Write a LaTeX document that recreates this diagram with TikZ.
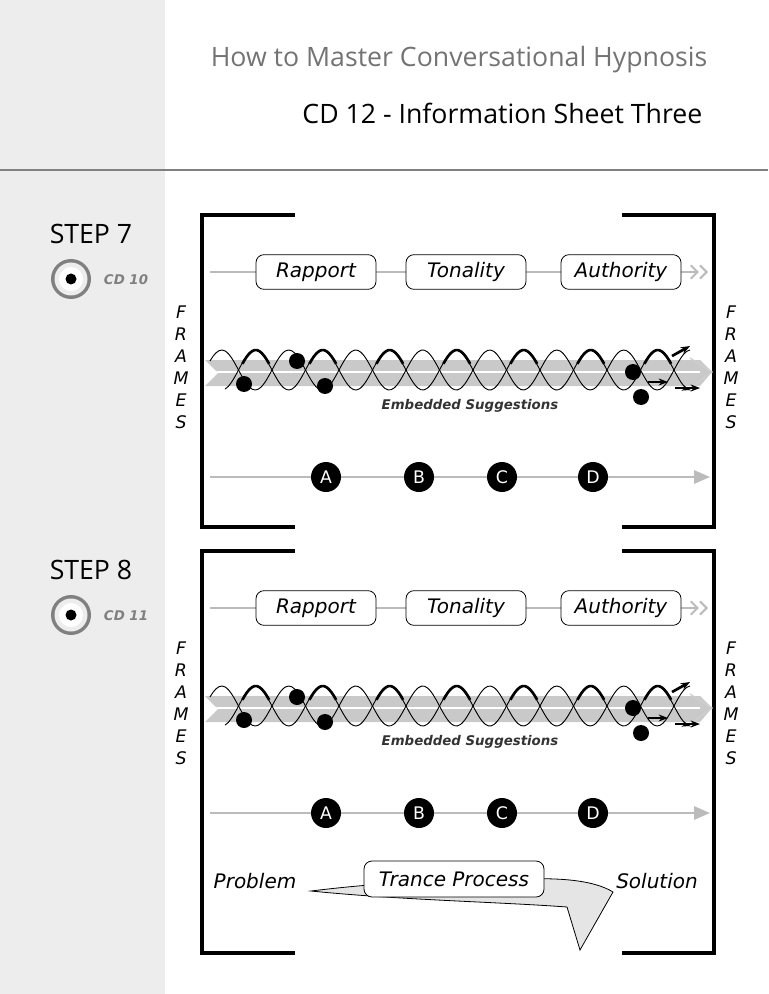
\documentclass[tikz,border=0pt]{standalone}
\usepackage{fontspec}
\setmainfont{Open Sans}
\newfontfamily\lab{DejaVu Sans}
\usetikzlibrary{arrows.meta}
\definecolor{panel}{HTML}{EDEDED}
\definecolor{ln}{HTML}{BBBBBB}
\tikzset{
 brk/.style={line width=3.5pt},
 rail/.style={ln,line width=1.5pt},
 lbox/.style={draw,rounded corners=6pt,minimum width=120pt*0.75,minimum height=26pt,font=\lab\itshape\fontsize{15}{15}\selectfont,fill=white,line width=0.6pt},
 dotc/.style={circle,fill=black,minimum size=30pt*0.75,inner sep=0pt,text=white,font=\lab\fontsize{13}{13}\selectfont},
 frl/.style={font=\lab\itshape\fontsize{13}{13}\selectfont,align=center},
 smdot/.style={circle,fill=black,inner sep=0pt,minimum size=12pt},
}
\begin{document}
\begin{tikzpicture}[x=0.75pt,y=-0.75pt]
\useasboundingbox (0,0) rectangle (768,994);
\fill[panel] (0,0) rectangle (165,994);
\draw[gray,line width=0.8pt] (0,170) -- (768,170);
\node[anchor=east,text=gray!90!black,font=\fontsize{20}{20}\selectfont] (t1) at (712,60) {How to Master Conversational Hypnosis};
\node[anchor=east,font=\fontsize{20}{20}\selectfont] (t2) at (707,113) {CD 12 - Information Sheet Three};
\foreach \o/\s/\c/\b in {0/7/10/527,336/8/11/617}{
 \begin{scope}[yshift=-\o*0.75pt]
 \node[font=\fontsize{20}{20}\selectfont] (st\s) at (91,234) {STEP \s};
 \fill[gray] (71,279) circle (20);
 \fill[white!93!black] (71,279) circle (16.5);
 \fill[white] (71,279) circle (12);
 \fill[black] (71,279) circle (5.5);
 \node[text=gray,font=\lab\itshape\bfseries\fontsize{10}{10}\selectfont] (cd\s) at (126,280) {CD \c};
 \draw[brk] (295,215) -- (202,215) -- (202,\b) -- (295,\b);
 \draw[brk] (622,215) -- (714,215) -- (714,\b) -- (622,\b);
 \node[frl,font=\lab\itshape\fontsize{13}{16.5}\selectfont] (fl\s) at (181,367) {F\\R\\A\\M\\E\\S};
 \node[frl,font=\lab\itshape\fontsize{13}{16.5}\selectfont] (fr\s) at (731,367) {F\\R\\A\\M\\E\\S};
 \coordinate (r1s\s) at (210,272); \coordinate (r1e\s) at (708,272);
 \draw[rail,-{Straight Barb[length=5pt]. Straight Barb[length=5pt]}] (r1s\s) -- (r1e\s);
 \node[lbox] (rap\s) at (316,272) {Rapport};
 \node[lbox] (ton\s) at (466,272) {Tonality};
 \node[lbox] (aut\s) at (621,272) {Authority};
 \fill[ln!80] (205,360) -- (700,360) -- (712,372) -- (700,386) -- (205,386) -- (218,373) -- cycle;
 \draw[white,line width=1.2pt] (212,372) -- (700,372);
 \draw[ln!70,line width=1pt] (690,358) -- (712,372) -- (690,388);
 \draw[line width=0.7pt] plot[domain=210:690,samples=160,smooth] (\x,{370-20*sin((\x-205)/67*360)});
 \draw[line width=0.7pt,-{Stealth[length=6pt]}] plot[domain=225:690,samples=160,smooth] (\x,{370+20*sin((\x-205)/67*360)});
 \foreach \k in {0,...,6}{
  \draw[line width=2pt] plot[domain=0.05:0.45,samples=12,smooth] ({239+\k*67+\x*67},{370-20*sin(\x*360)});
 }
 \draw[line width=2pt,-{Stealth[length=7pt]}] (672,356) -- (690,346);
 \draw[line width=1.2pt,-{Stealth[length=7pt]}] (648,382) -- (668,382);
 \draw[line width=1.2pt,-{Stealth[length=7pt]}] (675,388) -- (700,388);
 \node[smdot] (d1\s) at (244,384) {};
 \node[smdot] (d2\s) at (297,361) {};
 \node[smdot] (d3\s) at (325,386) {};
 \node[smdot] (d4\s) at (633,372) {};
 \node[smdot] (d5\s) at (641,397) {};
 \node[font=\lab\itshape\bfseries\fontsize{10}{10}\selectfont,text=black!80] (es\s) at (470,406) {Embedded Suggestions};
 \coordinate (r2s\s) at (210,477); \coordinate (r2e\s) at (710,477);
 \draw[rail,-{Triangle[length=12pt,width=10pt]}] (r2s\s) -- (r2e\s);
 \node[dotc] (A\s) at (326,477) {A};
 \node[dotc] (B\s) at (419,477) {B};
 \node[dotc] (C\s) at (502,477) {C};
 \node[dotc] (D\s) at (593,477) {D};
 \end{scope}
}
\node[font=\lab\itshape\fontsize{15}{15}\selectfont] (prob) at (255,881) {Problem};
\node[font=\lab\itshape\fontsize{15}{15}\selectfont] (sol) at (657,881) {Solution};
\fill[black!10,draw=black,line width=0.6pt] (311,891) .. controls (400,880) and (500,877) .. (555,879) .. controls (580,880) and (600,884) .. (613,892)
 -- (580,950) -- (567,907) .. controls (500,902) and (400,900) .. cycle;
\node[lbox,minimum width=135pt,minimum height=27pt] (tp) at (454,879) {Trance Process};
\end{tikzpicture}
\end{document}
